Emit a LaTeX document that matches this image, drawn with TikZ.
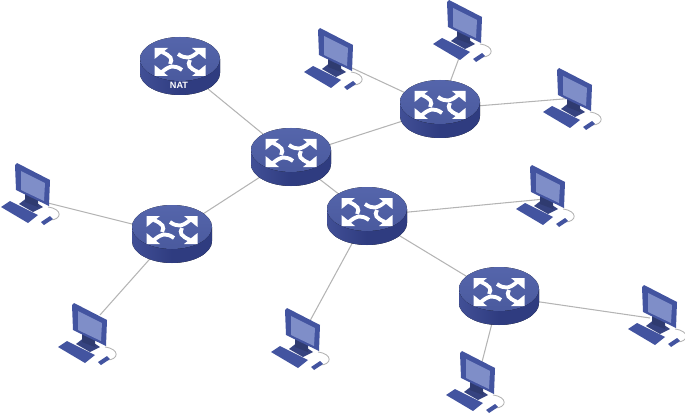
\documentclass[tikz,border=0pt]{standalone}
\usepackage{fontspec}
\setsansfont{Liberation Sans}
\definecolor{rtop}{HTML}{5565AB}
\definecolor{rtopd}{HTML}{4A5A9E}
\definecolor{rside}{HTML}{2F3C80}
\definecolor{rsidel}{HTML}{414F96}
\definecolor{pcdark}{HTML}{4354A0}
\definecolor{pcscreen}{HTML}{7F8EC8}
\definecolor{cablegray}{HTML}{B4B4B4}
\tikzset{
  link/.style={draw=cablegray, line width=0.6pt},
  swarrow/.style={draw=white, line width=2.2pt},
  swhead/.style={fill=white},
  natlabel/.style={text=white, font=\sffamily\bfseries\fontsize{5.2}{6}\selectfont, inner sep=0pt},
  router/.pic={
    % body
    \fill[left color=rsidel, right color=rside, middle color=rside]
      (-40,-7) -- (-40,7) arc[start angle=180, end angle=0, x radius=40, y radius=22]
      -- (40,-7) -- cycle;
    % top
    \fill[top color=rtop, bottom color=rtopd] (0,-7) ellipse[x radius=40, y radius=22];
    % arrows
    \foreach \s in {1,-1}{
      \begin{scope}[shift={(0,-4)}, xscale=\s, yscale=\s]
        \draw[swarrow] (-18,-10) .. controls (-9,-6) and (-7,-3) .. (-10,2);
        \fill[swhead] (-25.5,-14) -- (-12,-14) -- (-25.5,-3) -- cycle;
        \draw[swarrow] (18,-10) .. controls (10,-3) and (5,-3) .. (-2,-8);
        \fill[swhead] (25.5,-14) -- (12,-14) -- (25.5,-3) -- cycle;
      \end{scope}
    }
  },
  pc/.pic={
    % keyboard
    \fill[pcdark] (-14,42) -- (-5,36) -- (23,50) -- (13,58) -- cycle;
    % mouse cable
    \draw[cablegray, line width=0.5pt] (33,42) .. controls (48,44) and (47,55) .. (35,55);
    % mouse
    \fill[pcdark] (26,57) -- (35,51) -- (38,54) -- (29,60) -- cycle;
    % stand
    \fill[pcdark!80!black] (4,39) -- (13,32) -- (28,42) -- (18,47) -- cycle;
    \fill[pcdark!70!black] (10,28) -- (23,34) -- (23,42) -- (10,37) -- cycle;
    % monitor
    \fill[pcdark] (0,0) -- (2,-2) -- (35,15) -- (34,41) -- (1,25) -- cycle;
    \fill[pcscreen] (6,6) -- (30,18) -- (29,36) -- (6,25) -- cycle;
  }
}

\begin{document}
\begin{tikzpicture}[x=0.02cm, y=-0.02cm]
    \useasboundingbox (0,0) rectangle (685,415);
    % Router positions
    \foreach \name/\x/\y in {natrt/180/66, hub/291/157, rtTop/440/109, rtMid/367/216, rtLeft/172/234, rtLow/499/296}
        \coordinate (\name) at (\x,\y);
    % Computer positions
    \foreach \name/\x/\y in {pcA/318/30, pcB/447/2, pcC/557/70, pcD/530/167, pcE/642/287, pcF/460/353, pcG/285/310, pcH/72/305, pcI/15/165}
        \coordinate (\name) at (\x,\y);
    % Where the cables reach the computers
    \foreach \name/\x/\y in {portA/352/68, portB/462/50, portC/575/98, portD/545/199, portE/650/318, portF/482/362, portG/305/330, portH/100/315, portI/48/203}
        \coordinate (\name) at (\x,\y);
    % Draw links
    \foreach \a/\b in {natrt/hub, hub/rtTop, hub/rtMid, hub/rtLeft, rtMid/rtLow, rtTop/portA, rtTop/portB, rtTop/portC, rtMid/portD, rtMid/portG, rtLow/portE, rtLow/portF, rtLeft/portH, rtLeft/portI}
        \draw[link] (\a) -- (\b);
    % Draw computers
    \foreach \name in {pcA, pcB, pcC, pcD, pcE, pcF, pcG, pcH, pcI}
        \pic at (\name) {pc};
    % Draw routers
    \foreach \name in {natrt, hub, rtTop, rtMid, rtLeft, rtLow}
        \pic at (\name) {router};
    % NAT label
    \node[natlabel] (natname) at (179,85) {NAT};
\end{tikzpicture}
\end{document}
